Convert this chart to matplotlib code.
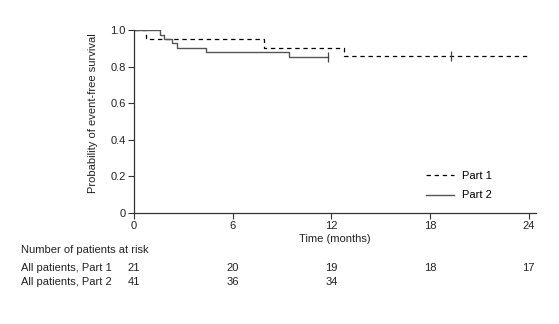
"""Kaplan-Meier style event-free survival, Part 1 vs Part 2, with risk table."""

import matplotlib
matplotlib.use("Agg")
import matplotlib.pyplot as plt

plt.rcParams["font.family"] = ["Liberation Sans", "DejaVu Sans"]
plt.rcParams["font.size"] = 8

# Step curves (time in months, survival probability after each step)
part1_times = [0, 0.73, 7.9, 12.8, 24.0]
part1_surv = [1.0, 0.952, 0.905, 0.857, 0.857]
part1_censor_t = [19.3]
part1_censor_s = [0.857]

part2_times = [0, 1.6, 1.8, 2.3, 2.6, 4.4, 9.4, 11.8]
part2_surv = [1.0, 0.976, 0.951, 0.927, 0.902, 0.878, 0.854, 0.854]
part2_censor_t = [11.8]
part2_censor_s = [0.854]

x_ticks = [0, 6, 12, 18, 24]
y_ticks = [0, 0.2, 0.4, 0.6, 0.8, 1.0]
y_labels = ["0", "0.2", "0.4", "0.6", "0.8", "1.0"]

risk_rows = ["All patients, Part 1", "All patients, Part 2"]
risk_part1 = [21, 20, 19, 18, 17]
risk_part2 = [41, 36, 34]

AX_BOTTOM, AX_TOP = 0.3426, 0.907
TEXT = "#222222"


def main() -> None:
    fig = plt.figure(figsize=(5.59, 3.24), dpi=100)
    ax = fig.add_axes([0.2397, AX_BOTTOM, 0.959 - 0.2397, AX_TOP - AX_BOTTOM])

    ax.step(part1_times, part1_surv, where="post", color="black", lw=0.9,
            ls=(0, (3.5, 3)), label="Part 1")
    ax.step(part2_times, part2_surv, where="post", color="#555555", lw=1.0,
            label="Part 2")
    ax.plot(part1_censor_t, part1_censor_s, marker="|", ms=7, color="#444444",
            ls="none", mew=0.9)
    ax.plot(part2_censor_t, part2_censor_s, marker="|", ms=7, color="#444444",
            ls="none", mew=0.9)

    ax.set_xlim(0, 24.45)
    ax.set_ylim(0, 1.0)
    ax.set_xticks(x_ticks)
    ax.set_yticks(y_ticks)
    ax.set_yticklabels(y_labels)
    ax.tick_params(direction="out", length=4, width=0.8, color="#333333",
                   labelcolor=TEXT, pad=2)
    for side in ("top", "right"):
        ax.spines[side].set_visible(False)
    for side in ("left", "bottom"):
        ax.spines[side].set_linewidth(0.9)
        ax.spines[side].set_color("#333333")

    ax.set_xlabel("Time (months)", labelpad=2, color=TEXT)
    ax.set_ylabel("Probability of event-free survival", color=TEXT)
    ax.yaxis.set_label_coords(-0.09, 0.545)

    ax.legend(loc="upper left", bbox_to_anchor=(426 / 559, 1 - 171 / 324),
              bbox_transform=fig.transFigure, frameon=False, borderpad=0,
              borderaxespad=0, handlelength=2.5, labelspacing=0.85,
              handletextpad=0.7)

    # Risk table below the axes
    fig.text(21 / 559, 1 - 250 / 324, "Number of patients at risk",
             va="center", ha="left", color=TEXT)
    row_y = [1 - 268 / 324, 1 - 282 / 324]
    for label, y in zip(risk_rows, row_y):
        fig.text(21 / 559, y, label, va="center", ha="left", color=TEXT)
    trans = ax.get_xaxis_transform()
    for counts, y in zip([risk_part1, risk_part2], row_y):
        y_ax = (y - AX_BOTTOM) / (AX_TOP - AX_BOTTOM)
        for t, n in zip(x_ticks, counts):
            ax.text(t, y_ax, str(n), transform=trans, ha="center",
                    va="center", color=TEXT)

    fig.savefig("out.png", dpi=100)


if __name__ == "__main__":
    main()
